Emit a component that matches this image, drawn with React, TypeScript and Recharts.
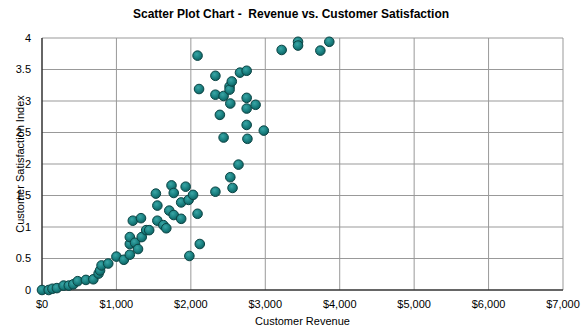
import React from "react";
import {
  ScatterChart,
  Scatter,
  XAxis,
  YAxis,
  CartesianGrid,
  Label,
} from "recharts";

// customer revenue ($) and satisfaction index
const revenue = [
  0, 90, 140, 200, 290, 360, 420, 480, 590, 690, 760, 780, 800, 890, 1000, 1100,
  1180, 1180, 1180, 1250, 1290, 1340, 1220, 1330, 1400, 1440, 1530, 1550, 1550,
  1630, 1670, 1710, 1740, 1770, 1770, 1870, 1870, 1930, 1970, 1980, 2030, 2090,
  2120, 2090, 2110, 2330, 2330, 2330, 2390, 2440, 2440, 2520, 2520, 2530, 2530,
  2550, 2560, 2640, 2660, 2750, 2750, 2750, 2750, 2760, 2870, 2980, 3220, 3440,
  3440, 3740, 3860,
];
const satisfaction = [
  0, 0, 0.02, 0.03, 0.07, 0.07, 0.09, 0.14, 0.16, 0.17, 0.26, 0.31, 0.39, 0.42,
  0.53, 0.48, 0.56, 0.73, 0.84, 0.75, 0.65, 0.84, 1.1, 1.14, 0.95, 0.95, 1.53,
  1.34, 1.1, 1.03, 0.98, 1.26, 1.66, 1.54, 1.19, 1.39, 1.13, 1.64, 1.43, 0.54,
  1.51, 1.21, 0.73, 3.72, 3.19, 3.4, 3.1, 1.56, 2.78, 3.08, 2.42, 3.23, 3.18,
  2.96, 1.79, 3.31, 1.62, 1.99, 3.45, 3.48, 3.05, 2.88, 2.62, 2.4, 2.94, 2.53,
  3.81, 3.94, 3.88, 3.8, 3.94,
];
const xTicks = [0, 1000, 2000, 3000, 4000, 5000, 6000, 7000];
const yTicks = [0, 0.5, 1, 1.5, 2, 2.5, 3, 3.5, 4];

const points = revenue.map((r, i) => ({ revenue: r, satisfaction: satisfaction[i] }));

const FONT = "'Liberation Sans', Arial, sans-serif";

const Ball = (props: any) => {
  const { cx, cy } = props;
  if (cx == null || cy == null) return null;
  return (
    <circle cx={cx} cy={cy} r={4.8} fill="url(#ball)" stroke="#0b4444" strokeWidth={1} />
  );
};

export default function App() {
  return (
    <div style={{ position: "absolute", left: 0, top: 0, width: 582, height: 332, background: "#fff" }}>
      <div
        style={{
          position: "absolute",
          top: 7,
          left: 0,
          width: 582,
          textAlign: "center",
          fontFamily: FONT,
          fontWeight: "bold",
          fontSize: 12,
          color: "#000",
        }}
      >
        Scatter Plot Chart -&nbsp; Revenue vs. Customer Satisfaction
      </div>
      <ScatterChart
        width={582}
        height={332}
        margin={{ top: 38, right: 19, bottom: 0, left: 0 }}
        style={{ fontFamily: FONT }}
      >
        <defs>
          <radialGradient id="ball" cx="40%" cy="35%" r="65%">
            <stop offset="0%" stopColor="#3aa6a6" />
            <stop offset="60%" stopColor="#1a8181" />
            <stop offset="100%" stopColor="#0f6262" />
          </radialGradient>
        </defs>
        <CartesianGrid stroke="#999" strokeWidth={1} />
        <XAxis
          type="number"
          dataKey="revenue"
          domain={[0, 7000]}
          ticks={xTicks}
          interval={0}
          height={42}
          stroke="#000"
          tickLine={false}
          tickMargin={4}
          tick={{ fontSize: 11, fill: "#000" }}
          tickFormatter={(v: number) => "$" + v.toLocaleString("en-US")}
        >
          <Label value="Customer Revenue" position="insideBottom" offset={7} style={{ fontSize: 11, fill: "#000" }} />
        </XAxis>
        <YAxis
          type="number"
          dataKey="satisfaction"
          domain={[0, 4]}
          ticks={yTicks}
          interval={0}
          width={42}
          stroke="#000"
          tickLine={false}
          tickMargin={5}
          tick={{ fontSize: 11, fill: "#000" }}
        >
          <Label
            value="Customer Satisfaction Index"
            angle={-90}
            position="insideLeft"
            offset={20}
            style={{ fontSize: 11, fill: "#000", textAnchor: "middle" }}
          />
        </YAxis>
        <Scatter data={points} shape={Ball} isAnimationActive={false} />
      </ScatterChart>
    </div>
  );
}
